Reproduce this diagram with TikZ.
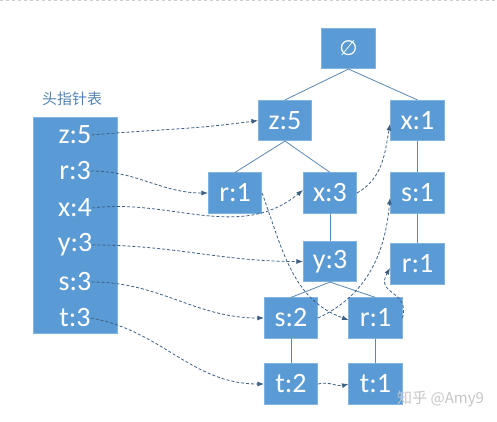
\documentclass[tikz,border=0pt]{standalone}
\usepackage{fontspec}
\setmainfont{Carlito}
\newfontfamily\cjk{Noto Sans CJK SC}
\newfontfamily\symfont{DejaVu Sans}
\usetikzlibrary{arrows.meta}
\definecolor{boxblue}{RGB}{91,155,213}
\definecolor{boxedge}{RGB}{130,180,225}
\definecolor{treeline}{RGB}{90,135,180}
\definecolor{linkcol}{RGB}{62,95,130}
\definecolor{titlecol}{RGB}{84,131,178}
\tikzset{
  fpbox/.style={fill=boxblue, draw=boxedge, line width=0.6pt, text=white,
    minimum width=53.5pt, minimum height=40.5pt, inner sep=0pt,
    font=\fontsize{28}{30}\selectfont},
  tabtext/.style={text=white, inner sep=0pt, font=\fontsize{28}{30}\selectfont},
  tree/.style={draw=treeline, line width=0.8pt},
  link/.style={draw=linkcol, line width=0.8pt, densely dashed,
    -{Latex[length=6.5pt,width=5pt]}},
}
\begin{document}
\begin{tikzpicture}[x=1pt,y=-1pt]
\useasboundingbox (0,0) rectangle (497,422);
\draw[gray!40, dashed, line width=0.4pt] (0,0.6) -- (497,0.6);
% header table
\node[fill=boxblue, draw=boxedge, line width=0.6pt, minimum width=84pt, minimum height=216pt, inner sep=0pt] (table) at (75,225) {};
\node[text=titlecol, font=\cjk\fontsize{15}{17}\selectfont, inner sep=0pt] (title) at (72,99) {头指针表};
\node[tabtext] (tz) at (75,135) {z:5};
\node[tabtext] (tr) at (75,171) {r:3};
\node[tabtext] (tx) at (75,208) {x:4};
\node[tabtext] (ty) at (75,245) {y:3};
\node[tabtext] (ts) at (75,282) {s:3};
\node[tabtext] (tt) at (75,318) {t:3};
% tree nodes
\node[fpbox, font=\symfont\fontsize{21}{23}\selectfont] (root) at (348.5,48.5) {∅};
\node[fpbox] (z5) at (285,120.5) {z:5};
\node[fpbox] (x1) at (417.5,120.5) {x:1};
\node[fpbox] (r1a) at (235,193) {r:1};
\node[fpbox] (x3) at (330,193) {x:3};
\node[fpbox] (s1) at (417.5,193) {s:1};
\node[fpbox] (y3) at (330,261.5) {y:3};
\node[fpbox] (r1r) at (417.5,264) {r:1};
\node[fpbox] (s2) at (291,318) {s:2};
\node[fpbox] (r1m) at (375.5,318) {r:1};
\node[fpbox] (t2) at (291,384) {t:2};
\node[fpbox] (t1) at (375.5,384) {t:1};
% tree edges
\draw[tree] (root.south) -- (z5.north);
\draw[tree] (root.south) -- (x1.north);
\draw[tree] (z5.south) -- (r1a.north);
\draw[tree] (z5.south) -- (x3.north);
\draw[tree] (x1.south) -- (s1.north);
\draw[tree] (s1.south) -- (r1r.north);
\draw[tree] (x3.south) -- (y3.north);
\draw[tree] (y3.south) -- (s2.north);
\draw[tree] (y3.south) -- (r1m.north);
\draw[tree] (s2.south) -- (t2.north);
\draw[tree] (r1m.south) -- (t1.north);
% node links
\coordinate (x1in) at (390,124);
\coordinate (s1in) at (390,198);
\coordinate (r1rin) at (390,268);
\draw[link] (tz.east) to[out=5, in=188] (z5.west);
\draw[link] (tr.east) to[out=0, in=180] (r1a.west);
\draw[link] (tx.east) .. controls (170,198) and (240,242) .. ([yshift=3pt]x3.west);
\draw[link] (ty.east) to[out=0, in=180] (y3.west);
\draw[link] (ts.east) to[out=0, in=180] (s2.west);
\draw[link] (tt.east) to[out=-10, in=180] (t2.west);
\draw[link] (x3.east) to[out=30, in=-100] (x1in);
\draw[link] (r1a.east) to[out=-70, in=160] ([yshift=-2pt]r1m.west);
\draw[link] (s2.east) to[out=25, in=-95] (s1in);
\draw[link] (r1m.east) .. controls (410,290) and (375,295) .. (r1rin);
\draw[link] (t2.east) to[out=15, in=195] (t1.west);
% watermark
\node[text=gray!45, font=\cjk\fontsize{15}{17}\selectfont, inner sep=0pt, anchor=west] (wm) at (397,399) {知乎 @Amy9};
\end{tikzpicture}
\end{document}
